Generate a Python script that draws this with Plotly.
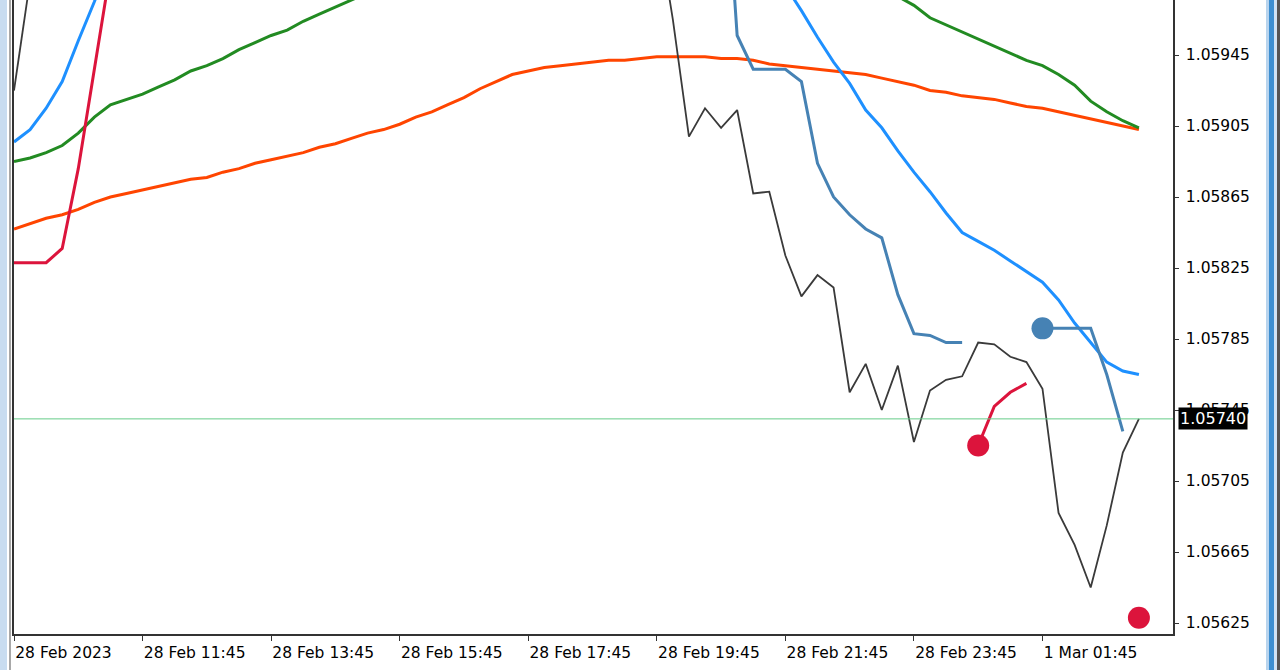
import pandas as pd
import plotly.graph_objects as go

# ---- data (M15 bars, 28 Feb 2023 09:45 .. 1 Mar 2023 03:15) ----
bar_start = "2023-02-28 09:45"
n_bars = 71
times = pd.date_range(bar_start, periods=n_bars, freq="15min")

price_close = ([1.05925, 1.05987] + [None] * 38 +
               [1.06021, 1.05965, 1.05899, 1.05915, 1.05904, 1.05914, 1.05867, 1.05868,
                1.05832, 1.05809, 1.05821, 1.05814, 1.05755, 1.05771, 1.05745, 1.05770,
                1.05727, 1.05756, 1.05762, 1.05764, 1.05783, 1.05782, 1.05775, 1.05772,
                1.05757, 1.05687, 1.05669, 1.05645, 1.05680, 1.05721, 1.05740])

ma_orange = [1.05847, 1.05850, 1.05853, 1.05855, 1.05858, 1.05862, 1.05865, 1.05867,
             1.05869, 1.05871, 1.05873, 1.05875, 1.05876, 1.05879, 1.05881, 1.05884,
             1.05886, 1.05888, 1.05890, 1.05893, 1.05895, 1.05898, 1.05901, 1.05903,
             1.05906, 1.05910, 1.05913, 1.05917, 1.05921, 1.05926, 1.05930, 1.05934,
             1.05936, 1.05938, 1.05939, 1.05940, 1.05941, 1.05942, 1.05942, 1.05943,
             1.05944, 1.05944, 1.05944, 1.05944, 1.05943, 1.05943, 1.05942, 1.05940,
             1.05939, 1.05938, 1.05937, 1.05936, 1.05935, 1.05934, 1.05932, 1.05930,
             1.05928, 1.05925, 1.05924, 1.05922, 1.05921, 1.05920, 1.05918, 1.05916,
             1.05915, 1.05913, 1.05911, 1.05909, 1.05907, 1.05905, 1.05903]

ma_green = ([1.05885, 1.05887, 1.05890, 1.05894, 1.05901, 1.05910, 1.05917, 1.05920,
             1.05923, 1.05927, 1.05931, 1.05936, 1.05939, 1.05943, 1.05948, 1.05952,
             1.05956, 1.05959, 1.05964, 1.05968, 1.05972, 1.05976, 1.05980] + [None] * 32 +
            [1.05978, 1.05973, 1.05966, 1.05962, 1.05958, 1.05954, 1.05950, 1.05946,
             1.05942, 1.05939, 1.05934, 1.05928, 1.05919, 1.05913, 1.05908, 1.05904])

ma_blue = ([1.05896, 1.05903, 1.05915, 1.05930, 1.05953, 1.05975, 1.05999] + [None] * 41 +
           [1.05984, 1.05970, 1.05955, 1.05941, 1.05929, 1.05914, 1.05904, 1.05891,
            1.05879, 1.05868, 1.05856, 1.05845, 1.05840, 1.05835, 1.05829, 1.05823,
            1.05817, 1.05807, 1.05794, 1.05783, 1.05772, 1.05767, 1.05765])

line_steel = ([None] * 44 +
              [1.06089, 1.05956, 1.05937, 1.05937, 1.05937, 1.05930, 1.05884, 1.05865,
               1.05855, 1.05847, 1.05842, 1.05810, 1.05788, 1.05787, 1.05783, 1.05783] +
              [None] * 4 +
              [1.05791, 1.05791, 1.05791, 1.05791, 1.05765, 1.05733] + [None])

line_crimson = ([1.05828, 1.05828, 1.05828, 1.05836, 1.05881, 1.05937, 1.05993] + [None] * 53 +
                [1.05725, 1.05747, 1.05755, 1.05760] + [None] * 7)

steel_dot_bar = [64]
steel_dot_val = [1.05791]
crimson_dot_bar = [60, 70]
crimson_dot_val = [1.05725, 1.05628]

bid_price = 1.05740

y_ticks = [1.05625, 1.05665, 1.05705, 1.05745, 1.05785, 1.05825, 1.05865, 1.05905, 1.05945]
x_tick_vals = ["2023-02-28 09:45", "2023-02-28 11:45", "2023-02-28 13:45", "2023-02-28 15:45",
               "2023-02-28 17:45", "2023-02-28 19:45", "2023-02-28 21:45", "2023-02-28 23:45",
               "2023-03-01 01:45"]
x_tick_text = ["28 Feb 2023", "28 Feb 11:45", "28 Feb 13:45", "28 Feb 15:45", "28 Feb 17:45",
               "28 Feb 19:45", "28 Feb 21:45", "28 Feb 23:45", "1 Mar 01:45"]

# ---- figure ----
FONT = "DejaVu Sans"
FS = 15.5
W, H = 1280, 670
ML, MR, MT, MB = 14, 107, 0, 36
pw = W - ML - MR
ph = H - MT - MB


def px_x(p):
    return (p - ML) / pw


def px_y(p):
    return (H - MB - p) / ph


fig = go.Figure()

fig.add_trace(go.Scatter(x=times, y=ma_orange, mode="lines",
                         line=dict(color="#FF4500", width=3), hoverinfo="skip"))
fig.add_trace(go.Scatter(x=times, y=ma_green, mode="lines",
                         line=dict(color="#228B22", width=3), hoverinfo="skip"))
fig.add_trace(go.Scatter(x=times, y=ma_blue, mode="lines",
                         line=dict(color="#1E90FF", width=3), hoverinfo="skip"))
fig.add_trace(go.Scatter(x=times, y=line_steel, mode="lines",
                         line=dict(color="#4682B4", width=3), hoverinfo="skip"))
fig.add_trace(go.Scatter(x=times, y=line_crimson, mode="lines",
                         line=dict(color="#DC143C", width=3), hoverinfo="skip"))
fig.add_trace(go.Scatter(x=times, y=price_close, mode="lines",
                         line=dict(color="#3a3a3a", width=1.8), hoverinfo="skip"))
fig.add_trace(go.Scatter(x=[times[i] for i in steel_dot_bar], y=steel_dot_val, mode="markers",
                         marker=dict(color="#4682B4", size=22), hoverinfo="skip"))
fig.add_trace(go.Scatter(x=[times[i] for i in crimson_dot_bar], y=crimson_dot_val, mode="markers",
                         marker=dict(color="#DC143C", size=22), hoverinfo="skip"))

# bid line
fig.add_shape(type="line", xref="paper", x0=0, x1=1, yref="y", y0=bid_price, y1=bid_price,
              line=dict(color="#66CC88", width=1))

# window frame decorations
shapes_frame = [
    (0, 7, "#c8dcf0"), (9, 11, "#a8a8a8"),
    (1266, 1269, "#b8d4ee"), (1269, 1274, "#3d8fd1"), (1274, 1277, "#cfe3f5"), (1277, 1280, "#555555"),
]
for a, b, c in shapes_frame:
    fig.add_shape(type="rect", xref="paper", yref="paper", x0=px_x(a), x1=px_x(b),
                  y0=px_y(H), y1=px_y(0), fillcolor=c, line=dict(width=0), layer="above")

fig.add_annotation(xref="paper", x=1, yref="y", y=bid_price, xanchor="left", yanchor="middle",
                   xshift=5, text="1.05740", showarrow=False, bgcolor="#000000",
                   font=dict(family=FONT, size=16, color="#ffffff"), borderpad=1)

x_end = pd.Timestamp(bar_start) + pd.Timedelta(minutes=15 * (pw / 16.07))

fig.update_layout(
    width=W, height=H, margin=dict(l=ML, r=MR, t=MT, b=MB),
    paper_bgcolor="#ffffff", plot_bgcolor="#ffffff", showlegend=False,
    font=dict(family=FONT, size=FS, color="#000000"),
    xaxis=dict(type="date", range=[pd.Timestamp(bar_start), x_end],
               tickvals=x_tick_vals, ticktext=x_tick_text, ticks="outside", ticklen=5,
               tickcolor="#333333", showgrid=False, zeroline=False, showline=True,
               linecolor="#333333", linewidth=1.5, ticklabelposition="outside right",
               ticklabelstandoff=4,
               tickfont=dict(family=FONT, size=FS, color="#000000")),
    yaxis=dict(side="right", range=[1.056188, 1.05976], tickvals=y_ticks, tickformat=".5f",
               ticks="outside", ticklen=4, tickcolor="#333333", showgrid=False, zeroline=False,
               showline=True, mirror=True, linecolor="#333333", linewidth=1.5,
               ticklabelstandoff=4,
               tickfont=dict(family=FONT, size=FS, color="#000000")),
)

fig.write_html("out.html", config={"displayModeBar": False},
               post_script="document.body.style.margin='0';document.body.style.overflow='hidden';")
